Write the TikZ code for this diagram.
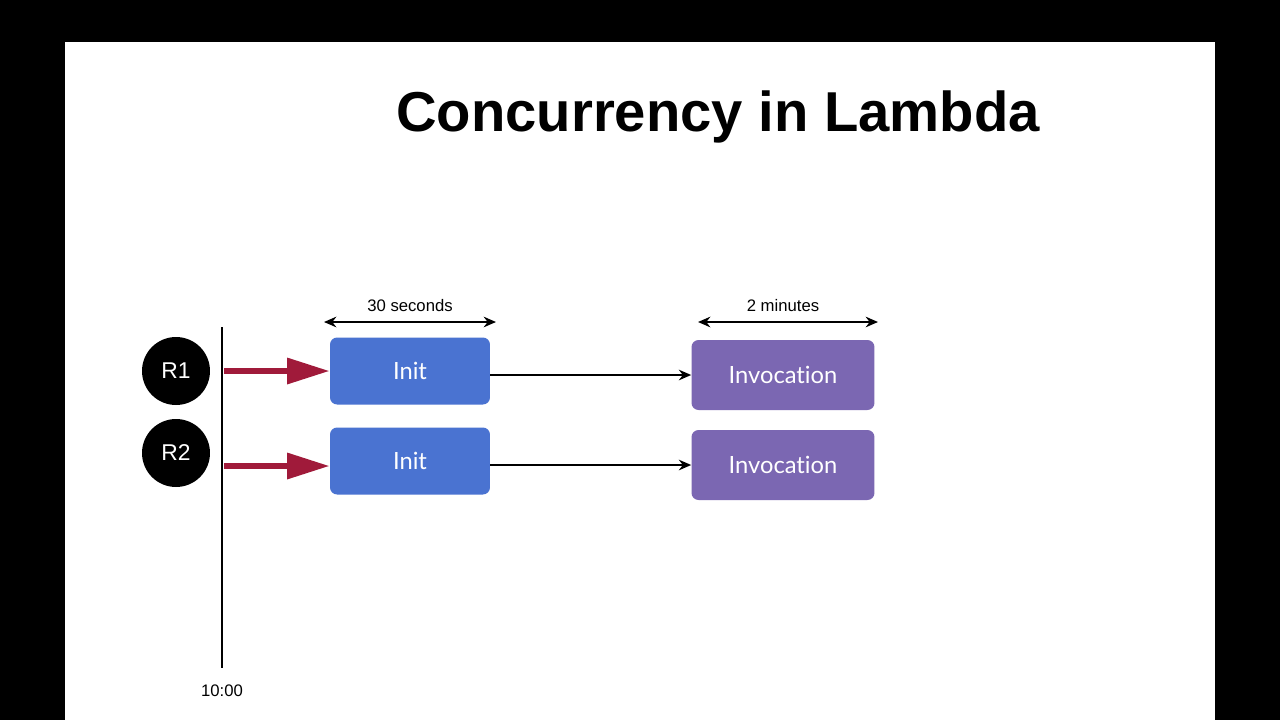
\documentclass[tikz,border=0pt]{standalone}
\usepackage{fontspec}
\setmainfont{Liberation Sans}
\newfontfamily\boxfont[Ligatures=NoCommon]{Lato}
\usetikzlibrary{arrows.meta}
\definecolor{initblue}{HTML}{4A73D1}
\definecolor{invpurple}{HTML}{7B67B2}
\definecolor{reqred}{HTML}{A01A3A}
\tikzset{x=0.02cm,y=-0.02cm,
 req/.style={circle,fill=black,minimum size=1.36cm,inner sep=0pt,text=white,font=\fontsize{13pt}{15pt}\selectfont},
 initbox/.style={rounded corners=4pt,fill=initblue,minimum width=3.2cm,minimum height=1.34cm,text=white,font=\boxfont\fontsize{13.5pt}{16pt}\selectfont},
 invbox/.style={rounded corners=4pt,fill=invpurple,minimum width=3.66cm,minimum height=1.4cm,text=white,font=\boxfont\fontsize{13.5pt}{16pt}\selectfont},
 redarrow/.style={draw=reqred,line width=3.5pt,-{Triangle[length=0.85cm,width=0.5cm]}},
 flow/.style={draw,line width=1pt,-{Stealth[length=7pt,width=6pt]}},
 dim/.style={draw,line width=1.2pt,{Stealth[length=7pt,width=6pt]}-{Stealth[length=7pt,width=6pt]}},
 lbl/.style={font=\fontsize{9.5pt}{11pt}\selectfont}}
\begin{document}
\begin{tikzpicture}
\fill[black] (0,0) rectangle (1280,720);
\fill[white] (65,42) rectangle (1215,720);
\node[font=\bfseries\fontsize{32pt}{36pt}\selectfont] (title) at (718,117) {Concurrency in Lambda};
\coordinate (lt) at (222,327); \coordinate (lb) at (222,668);
\draw[line width=1pt] (lt) -- (lb);
\node[lbl] (time) at (222,691) {10:00};
\node[req] (r1) at (176,371) {R1};
\node[req] (r2) at (176,453) {R2};
\node[initbox] (i1) at (410,371) {Init};
\node[initbox] (i2) at (410,461) {Init};
\node[invbox] (v1) at (783,375) {Invocation};
\node[invbox] (v2) at (783,465) {Invocation};
\coordinate (a1) at (224,371); \coordinate (a2) at (224,466);
\draw[redarrow] (a1) -- (i1.west);
\draw[redarrow] (a2) -- (i2.west|-a2);
\draw[flow] (i1.east|-v1) -- (v1.west);
\draw[flow] (i2.east|-v2) -- (v2.west);
\coordinate (d1a) at (324,322); \coordinate (d1b) at (496,322);
\coordinate (d2a) at (698,322); \coordinate (d2b) at (878,322);
\draw[dim] (d1a) -- (d1b);
\draw[dim] (d2a) -- (d2b);
\node[lbl] (l1) at (410,306) {30 seconds};
\node[lbl] (l2) at (783,306) {2 minutes};
\end{tikzpicture}
\end{document}
